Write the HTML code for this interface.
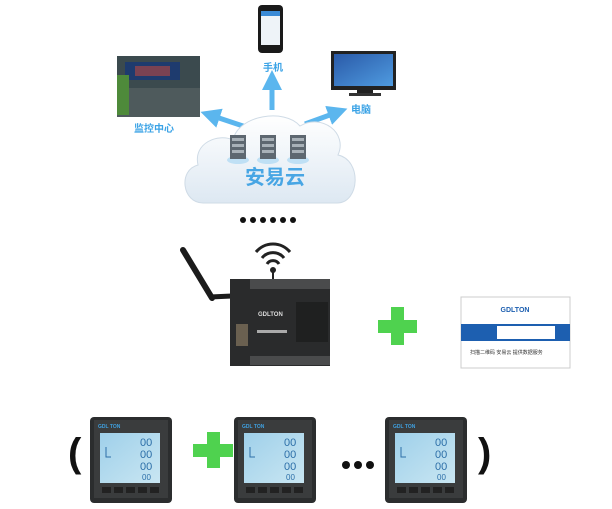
<!DOCTYPE html>
<html><head><meta charset="utf-8"><style>
html,body{margin:0;padding:0;background:#fff;}
svg{display:block}
text{font-family:"Liberation Sans","Noto Sans CJK SC",sans-serif}
</style></head><body>
<svg width="612" height="509" viewBox="0 0 612 509" xmlns="http://www.w3.org/2000/svg">
<defs>
<linearGradient id="cl" x1="0" y1="0" x2="0" y2="1"><stop offset="0" stop-color="#ffffff"/><stop offset="1" stop-color="#dde8f2"/></linearGradient>
<linearGradient id="scr" x1="0" y1="0" x2="1" y2="1"><stop offset="0" stop-color="#2a5aa8"/><stop offset="1" stop-color="#4f9be0"/></linearGradient>
<linearGradient id="lcd" x1="0" y1="0" x2="1" y2="1"><stop offset="0" stop-color="#9fd0ea"/><stop offset="1" stop-color="#c9e6f2"/></linearGradient>
<marker id="ar" markerWidth="4" markerHeight="4" refX="2" refY="2" orient="auto"><path d="M0,0 L4,2 L0,4z" fill="#5bb6ee"/></marker>
<g id="meter">
<rect x="0" y="0" width="82" height="86" rx="4" fill="#2b2d2e"/>
<rect x="4" y="3" width="74" height="78" fill="#3a3c3d"/>
<text x="8" y="11" font-size="5" fill="#3fa0e0" font-weight="bold">GDL TON</text>
<rect x="10" y="16" width="60" height="50" fill="url(#lcd)"/>
<text x="50" y="29" font-size="11" fill="#2d6fa8" font-family="Liberation Mono">00</text>
<text x="50" y="41" font-size="11" fill="#2d6fa8" font-family="Liberation Mono">00</text>
<text x="50" y="53" font-size="11" fill="#2d6fa8" font-family="Liberation Mono">00</text>
<text x="52" y="63" font-size="8" fill="#2d6fa8" font-family="Liberation Mono">00</text>
<path d="M16 30 v10 h5" stroke="#2d6fa8" fill="none"/>
<g fill="#222"><rect x="12" y="70" width="9" height="6"/><rect x="24" y="70" width="9" height="6"/><rect x="36" y="70" width="9" height="6"/><rect x="48" y="70" width="9" height="6"/><rect x="60" y="70" width="9" height="6"/></g>
</g>
<g id="srv"><ellipse cx="8" cy="25" rx="11" ry="4" fill="#bfe0f5"/><rect x="0" y="0" width="16" height="24" fill="#5d6770"/><g fill="#a8b1b8"><rect x="2" y="3" width="12" height="3"/><rect x="2" y="9" width="12" height="3"/><rect x="2" y="15" width="12" height="3"/></g></g>
</defs>

<rect x="117" y="56" width="83" height="61" fill="#3b4a4e"/>
<rect x="125" y="62" width="55" height="18" fill="#1e3b6e"/>
<rect x="135" y="66" width="35" height="10" fill="#b7473f" opacity=".6"/>
<rect x="117" y="88" width="83" height="29" fill="#4e5a5c"/>
<rect x="117" y="75" width="12" height="40" fill="#4e8a3a"/>
<text x="134" y="132" font-size="10" fill="#3ba3e6" font-weight="bold">监控中心</text>

<rect x="258" y="5" width="25" height="48" rx="4" fill="#1a1a1a"/>
<rect x="261" y="11" width="19" height="34" fill="#eef3f8"/>
<rect x="261" y="11" width="19" height="5" fill="#3a8ad6"/>
<text x="263" y="71" font-size="10" fill="#3ba3e6" font-weight="bold">手机</text>

<rect x="331" y="51" width="65" height="39" fill="#222"/>
<rect x="334" y="54" width="59" height="32" fill="url(#scr)"/>
<rect x="357" y="90" width="16" height="4" fill="#222"/>
<rect x="349" y="93" width="32" height="3" fill="#333"/>
<text x="351" y="113" font-size="10" fill="#3ba3e6" font-weight="bold">电脑</text>

<g stroke="#5bb6ee" stroke-width="5" fill="none" marker-end="url(#ar)">
<line x1="272" y1="110" x2="272" y2="80"/>
<line x1="246" y1="127" x2="210" y2="115"/>
<line x1="305" y1="124" x2="338" y2="112"/>
</g>

<path d="M203 203 C182 203 178 170 198 165 C193 143 218 133 233 140 C238 115 285 108 300 126 C322 113 348 133 338 155 C362 160 360 203 337 203 Z" fill="url(#cl)" stroke="#cfdbe6"/>
<use href="#srv" x="230" y="135"/>
<use href="#srv" x="260" y="135"/>
<use href="#srv" x="290" y="135"/>
<text x="275" y="184" font-size="20" font-weight="bold" fill="#48a6e4" text-anchor="middle">安易云</text>
<g fill="#111"><circle cx="243" cy="220" r="3"/><circle cx="253" cy="220" r="3"/><circle cx="263" cy="220" r="3"/><circle cx="273" cy="220" r="3"/><circle cx="283" cy="220" r="3"/><circle cx="293" cy="220" r="3"/></g>

<line x1="183" y1="250" x2="212" y2="298" stroke="#1b1b1b" stroke-width="6" stroke-linecap="round"/>
<line x1="210" y1="297" x2="232" y2="296" stroke="#1b1b1b" stroke-width="5"/>
<g stroke="#222" stroke-width="3" fill="none"><path d="M256 252 A22 22 0 0 1 290 252"/><path d="M262 258 A14 14 0 0 1 284 258"/><path d="M267 264 A7 7 0 0 1 279 264"/></g>
<circle cx="273" cy="270" r="3" fill="#222"/><line x1="273" y1="270" x2="273" y2="280" stroke="#222" stroke-width="2"/>
<rect x="230" y="279" width="100" height="87" fill="#2a2b2c"/>
<rect x="250" y="279" width="80" height="10" fill="#4a4b4c"/>
<rect x="250" y="356" width="80" height="9" fill="#4a4b4c"/>
<rect x="296" y="302" width="32" height="40" fill="#1f2020"/>
<rect x="236" y="324" width="12" height="22" fill="#6a6050"/>
<text x="258" y="316" font-size="6" fill="#ddd" font-weight="bold">GDLTON</text>
<rect x="257" y="330" width="30" height="3" fill="#aaa"/>

<g fill="#4fd24f"><rect x="391" y="307" width="13" height="38"/><rect x="378" y="320" width="39" height="13"/></g>

<rect x="461" y="297" width="109" height="71" fill="#fff" stroke="#ccc"/>
<text x="515" y="312" font-size="7" font-weight="bold" fill="#1d5fb0" text-anchor="middle">GDLTON</text>
<rect x="461" y="324" width="109" height="17" fill="#1d5fb0"/>
<rect x="497" y="326" width="58" height="13" fill="#fff"/>
<text x="470" y="354" font-size="5" fill="#333">扫描二维码  安易云  提供数据服务</text>

<use href="#meter" x="90" y="417"/>
<use href="#meter" x="234" y="417"/>
<use href="#meter" x="385" y="417"/>
<g fill="#4fd24f"><rect x="207" y="432" width="13" height="36"/><rect x="193" y="444" width="40" height="13"/></g>
<g fill="#111"><circle cx="346" cy="465" r="4"/><circle cx="358" cy="465" r="4"/><circle cx="370" cy="465" r="4"/></g>
<text x="68" y="466" font-size="40" fill="#111" font-weight="bold">(</text>
<text x="478" y="466" font-size="40" fill="#111" font-weight="bold">)</text>
</svg>
</body></html>
